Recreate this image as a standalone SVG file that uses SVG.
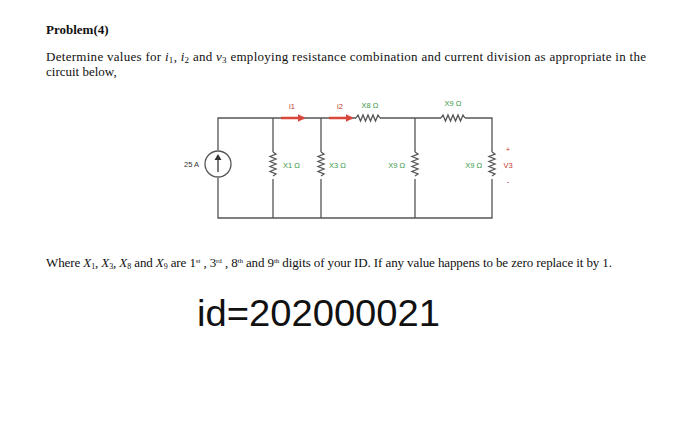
<svg xmlns="http://www.w3.org/2000/svg" width="700" height="448" viewBox="0 0 700 448">
<style>
.t{font-family:"Liberation Serif",serif;font-size:13px;fill:#111}
.w{stroke:#555;stroke-width:1.3;fill:none}
.g{font-family:"Liberation Sans",sans-serif;font-size:7.5px;fill:#3a9a4a}
.r{font-family:"Liberation Sans",sans-serif;font-size:7.5px;fill:#c0392b}
.k{font-family:"Liberation Sans",sans-serif;font-size:7.5px;fill:#333}
</style>
<defs>
<marker id="ah" viewBox="0 0 10 10" refX="8" refY="5" markerWidth="3" markerHeight="3" orient="auto"><path d="M0,0L10,5L0,10z" fill="#d9463a"/></marker>
</defs>
<rect width="700" height="448" fill="#fff"/>
<text class="t" x="46" y="34" font-weight="bold">Problem(4)</text>
<text class="t" x="46" y="61" textLength="600">Determine values for <tspan font-style="italic">i</tspan><tspan font-size="9" dy="2">1</tspan><tspan dy="-2">, </tspan><tspan font-style="italic">i</tspan><tspan font-size="9" dy="2">2</tspan><tspan dy="-2"> and </tspan><tspan font-style="italic">v</tspan><tspan font-size="9" dy="2">3</tspan><tspan dy="-2"> employing resistance combination and current division as appropriate in the</tspan></text>
<text class="t" x="46" y="76">circuit below,</text>
<g id="connectors">
<path class="w" d="M218,118H492V218H218Z M273,118V218 M321,118V218 M415,118V218"/>
</g>
<g id="source">
<rect x="203" y="150" width="30" height="28" fill="#fff"/>
<circle cx="218" cy="164" r="13" fill="#fff" stroke="#555" stroke-width="1.3"/>
<path d="M218,172V158" stroke="#333" stroke-width="1.3"/>
<path d="M214.5,160L218,154L221.5,160z" fill="#333"/>
<text class="k" x="184" y="167">25 A</text>
</g>
<g id="R1"><rect x="266" y="152" width="14" height="27" fill="#fff"/><path class="w" d="M273,152l3,2l-6,2.5l6,2.5l-6,2.5l6,2.5l-6,2.5l6,2.5l-6,2.5l6,2.5l-3,2"/><text class="g" x="283" y="168">X1 Ω</text></g>
<g id="R3"><rect x="314" y="152" width="14" height="27" fill="#fff"/><path class="w" d="M321,152l3,2l-6,2.5l6,2.5l-6,2.5l6,2.5l-6,2.5l6,2.5l-6,2.5l6,2.5l-3,2"/><text class="g" x="329" y="168">X3 Ω</text></g>
<g id="R9a"><rect x="408" y="152" width="14" height="27" fill="#fff"/><path class="w" d="M415,152l3,2l-6,2.5l6,2.5l-6,2.5l6,2.5l-6,2.5l6,2.5l-6,2.5l6,2.5l-3,2"/><text class="g" x="405" y="168" text-anchor="end">X9 Ω</text></g>
<g id="R9b"><rect x="485" y="152" width="14" height="27" fill="#fff"/><path class="w" d="M492,152l3,2l-6,2.5l6,2.5l-6,2.5l6,2.5l-6,2.5l6,2.5l-6,2.5l6,2.5l-3,2"/><text class="g" x="482" y="168" text-anchor="end">X9 Ω</text>
<text class="r" x="508" y="152" text-anchor="middle">+</text><text class="r" x="508" y="168" text-anchor="middle">V3</text><text class="r" x="508" y="184" text-anchor="middle">-</text></g>
<g id="R8"><rect x="356" y="112" width="24" height="12" fill="#fff"/><path class="w" d="M356,118l2,-3l2.5,6l2.5,-6l2.5,6l2.5,-6l2.5,6l2.5,-6l2.5,6l2.5,-6l2,3"/><text class="g" x="370" y="108" text-anchor="middle">X8 Ω</text></g>
<g id="R9top"><rect x="441" y="112" width="24" height="12" fill="#fff"/><path class="w" d="M441,118l2,-3l2.5,6l2.5,-6l2.5,6l2.5,-6l2.5,6l2.5,-6l2.5,6l2.5,-6l2,3"/><text class="g" x="453" y="106" text-anchor="middle">X9 Ω</text></g>
<g id="i1"><path d="M281,118H304" stroke="#d9463a" stroke-width="2.5" marker-end="url(#ah)"/><text class="r" x="292" y="109" text-anchor="middle">i1</text></g>
<g id="i2"><path d="M329,118H352" stroke="#d9463a" stroke-width="2.5" marker-end="url(#ah)"/><text class="r" x="340" y="109" text-anchor="middle">i2</text></g>
<text class="t" x="46" y="267" font-size="12" textLength="566">Where <tspan font-style="italic">X</tspan><tspan font-size="8" dy="2">1</tspan><tspan dy="-2">, </tspan><tspan font-style="italic">X</tspan><tspan font-size="8" dy="2">3</tspan><tspan dy="-2">, </tspan><tspan font-style="italic">X</tspan><tspan font-size="8" dy="2">8</tspan><tspan dy="-2"> and </tspan><tspan font-style="italic">X</tspan><tspan font-size="8" dy="2">9</tspan><tspan dy="-2"> are 1</tspan><tspan font-size="7" dy="-4">st</tspan><tspan dy="4"> , 3</tspan><tspan font-size="7" dy="-4">rd</tspan><tspan dy="4"> , 8</tspan><tspan font-size="7" dy="-4">th</tspan><tspan dy="4"> and 9</tspan><tspan font-size="7" dy="-4">th</tspan><tspan dy="4"> digits of your ID. If any value happens to be zero replace it by 1.</tspan></text>
<text x="197" y="326" font-family="Liberation Sans,sans-serif" font-size="37" fill="#111" textLength="243" lengthAdjust="spacingAndGlyphs">id=202000021</text>
</svg>
